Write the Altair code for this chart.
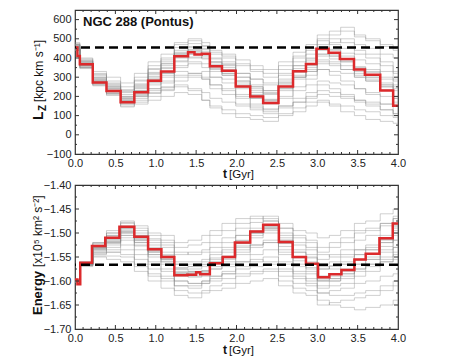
import altair as alt
import pandas as pd

# ---------------- data ----------------
step_t = [0, 0.06, 0.22, 0.39, 0.565, 0.735, 0.905, 1.065, 1.23, 1.40, 1.57, 1.67, 1.82,
          1.99, 2.17, 2.33, 2.52, 2.70, 2.86, 3.00, 3.15, 3.29, 3.46, 3.60, 3.78, 3.94, 4.0]

lz_gray = [
    [470, 380, 290, 245, 190, 240, 300, 345, 425, 445, 435, 375, 350, 270, 220, 185, 270, 345, 385, 460, 440, 410, 355, 330, 250, 170, 170],
    [480, 400, 320, 280, 250, 300, 360, 400, 470, 490, 460, 400, 380, 320, 290, 260, 320, 380, 420, 470, 500, 480, 440, 420, 380, 330, 330],
    [440, 350, 260, 210, 150, 190, 240, 280, 350, 370, 350, 300, 270, 200, 160, 130, 190, 250, 290, 340, 310, 280, 240, 210, 160, 110, 110],
    [450, 355, 270, 215, 160, 170, 200, 230, 260, 230, 180, 140, 110, 90, 80, 70, 100, 120, 150, 170, 150, 120, 100, 80, 70, 60, 60],
    [460, 375, 300, 260, 225, 280, 340, 380, 440, 460, 450, 420, 400, 360, 330, 300, 340, 400, 450, 520, 540, 560, 520, 500, 460, 440, 440],
    [455, 365, 280, 240, 200, 210, 230, 250, 280, 300, 290, 260, 240, 210, 190, 180, 200, 230, 260, 280, 270, 260, 240, 220, 200, 190, 190],
    [450, 370, 285, 230, 180, 230, 290, 320, 380, 400, 410, 350, 320, 250, 200, 170, 230, 300, 340, 390, 380, 360, 320, 300, 260, 230, 230],
    [445, 360, 265, 220, 175, 200, 260, 300, 330, 320, 300, 260, 230, 190, 150, 120, 140, 170, 200, 230, 220, 200, 170, 150, 130, 110, 110],
    [465, 385, 310, 265, 230, 260, 320, 370, 420, 440, 420, 380, 360, 300, 260, 230, 280, 330, 370, 420, 410, 390, 350, 340, 300, 280, 280],
    [470, 390, 330, 300, 270, 320, 380, 420, 480, 500, 480, 440, 420, 390, 360, 340, 380, 430, 470, 500, 520, 540, 510, 490, 470, 450, 450],
    [440, 345, 255, 205, 145, 160, 180, 200, 220, 210, 180, 150, 130, 110, 100, 90, 110, 140, 170, 180, 160, 150, 130, 120, 100, 90, 90],
    [455, 360, 275, 225, 165, 215, 275, 325, 400, 420, 415, 355, 330, 260, 205, 170, 250, 325, 365, 440, 420, 390, 340, 310, 235, 160, 160],
    [460, 370, 280, 235, 185, 230, 285, 330, 405, 420, 400, 340, 310, 240, 190, 160, 240, 310, 350, 420, 410, 380, 330, 300, 250, 200, 200],
    [450, 360, 280, 250, 220, 250, 290, 320, 360, 380, 370, 330, 310, 280, 250, 230, 260, 300, 330, 370, 360, 340, 310, 290, 260, 240, 240],
    [475, 395, 315, 270, 235, 285, 345, 390, 455, 475, 465, 430, 410, 370, 340, 320, 360, 410, 440, 490, 470, 450, 420, 400, 360, 320, 320],
    [445, 350, 260, 215, 160, 180, 215, 245, 300, 310, 290, 240, 210, 160, 130, 110, 150, 190, 220, 260, 240, 210, 180, 160, 130, 100, 100],
    [455, 365, 275, 230, 175, 220, 270, 310, 385, 405, 395, 345, 320, 255, 210, 180, 240, 300, 330, 380, 370, 340, 300, 280, 230, 190, 190],
    [460, 375, 290, 240, 195, 245, 305, 350, 410, 430, 420, 380, 365, 320, 290, 270, 310, 360, 400, 450, 480, 500, 470, 450, 420, 400, 400],
    [450, 360, 270, 225, 180, 205, 240, 270, 310, 320, 330, 300, 290, 250, 230, 220, 250, 290, 310, 340, 330, 320, 300, 280, 270, 260, 260],
    [465, 380, 295, 250, 200, 255, 315, 360, 420, 435, 425, 365, 340, 280, 240, 210, 270, 330, 360, 410, 395, 380, 345, 325, 290, 250, 250],
    [440, 350, 270, 230, 190, 200, 220, 235, 250, 240, 220, 190, 170, 150, 140, 135, 150, 170, 190, 210, 200, 190, 180, 170, 160, 150, 150],
    [470, 385, 300, 255, 210, 265, 325, 370, 430, 455, 445, 395, 370, 300, 250, 215, 290, 360, 395, 450, 445, 425, 390, 370, 330, 290, 290],
]

en_gray = [
    [-1.600, -1.565, -1.530, -1.515, -1.495, -1.515, -1.540, -1.555, -1.580, -1.580, -1.578, -1.560, -1.548, -1.522, -1.500, -1.488, -1.522, -1.552, -1.565, -1.590, -1.585, -1.575, -1.556, -1.545, -1.515, -1.487, -1.487],
    [-1.598, -1.560, -1.522, -1.500, -1.480, -1.490, -1.505, -1.515, -1.530, -1.525, -1.520, -1.505, -1.495, -1.480, -1.470, -1.465, -1.480, -1.495, -1.500, -1.510, -1.505, -1.495, -1.480, -1.475, -1.460, -1.450, -1.450],
    [-1.602, -1.568, -1.540, -1.530, -1.515, -1.535, -1.560, -1.575, -1.600, -1.605, -1.600, -1.590, -1.580, -1.560, -1.545, -1.535, -1.560, -1.585, -1.595, -1.615, -1.610, -1.605, -1.590, -1.580, -1.560, -1.540, -1.540],
    [-1.600, -1.570, -1.550, -1.555, -1.560, -1.580, -1.600, -1.615, -1.630, -1.635, -1.625, -1.620, -1.615, -1.605, -1.600, -1.595, -1.610, -1.625, -1.630, -1.650, -1.645, -1.640, -1.635, -1.630, -1.620, -1.610, -1.610],
    [-1.597, -1.563, -1.525, -1.505, -1.485, -1.500, -1.520, -1.530, -1.560, -1.560, -1.555, -1.540, -1.530, -1.505, -1.490, -1.475, -1.500, -1.525, -1.535, -1.555, -1.545, -1.535, -1.515, -1.505, -1.485, -1.470, -1.470],
    [-1.600, -1.566, -1.535, -1.525, -1.510, -1.520, -1.535, -1.545, -1.565, -1.570, -1.565, -1.555, -1.550, -1.535, -1.525, -1.520, -1.535, -1.550, -1.560, -1.575, -1.570, -1.565, -1.555, -1.550, -1.540, -1.530, -1.530],
    [-1.603, -1.562, -1.528, -1.512, -1.490, -1.510, -1.536, -1.552, -1.586, -1.584, -1.580, -1.562, -1.550, -1.522, -1.499, -1.485, -1.520, -1.550, -1.563, -1.590, -1.585, -1.577, -1.556, -1.543, -1.512, -1.482, -1.482],
    [-1.599, -1.567, -1.545, -1.540, -1.535, -1.555, -1.575, -1.590, -1.610, -1.615, -1.605, -1.595, -1.585, -1.570, -1.560, -1.550, -1.565, -1.580, -1.585, -1.600, -1.595, -1.585, -1.575, -1.565, -1.555, -1.545, -1.545],
    [-1.601, -1.563, -1.520, -1.495, -1.475, -1.485, -1.500, -1.505, -1.520, -1.515, -1.505, -1.495, -1.480, -1.470, -1.465, -1.475, -1.490, -1.505, -1.515, -1.530, -1.520, -1.510, -1.495, -1.490, -1.480, -1.470, -1.470],
    [-1.600, -1.565, -1.540, -1.540, -1.545, -1.570, -1.590, -1.600, -1.620, -1.625, -1.620, -1.610, -1.605, -1.590, -1.585, -1.580, -1.600, -1.615, -1.620, -1.640, -1.650, -1.655, -1.660, -1.655, -1.650, -1.640, -1.640],
    [-1.598, -1.564, -1.532, -1.520, -1.500, -1.525, -1.550, -1.565, -1.590, -1.592, -1.590, -1.575, -1.565, -1.545, -1.530, -1.520, -1.545, -1.570, -1.580, -1.600, -1.600, -1.595, -1.580, -1.570, -1.550, -1.530, -1.530],
    [-1.602, -1.566, -1.530, -1.510, -1.500, -1.505, -1.515, -1.520, -1.540, -1.545, -1.540, -1.530, -1.520, -1.505, -1.495, -1.490, -1.505, -1.520, -1.530, -1.545, -1.550, -1.545, -1.535, -1.530, -1.520, -1.515, -1.515],
    [-1.600, -1.567, -1.537, -1.522, -1.505, -1.527, -1.545, -1.560, -1.575, -1.575, -1.570, -1.575, -1.570, -1.560, -1.555, -1.560, -1.575, -1.590, -1.600, -1.610, -1.600, -1.590, -1.575, -1.565, -1.560, -1.555, -1.555],
    [-1.599, -1.561, -1.526, -1.508, -1.488, -1.506, -1.530, -1.548, -1.575, -1.580, -1.582, -1.565, -1.555, -1.530, -1.510, -1.500, -1.515, -1.540, -1.550, -1.570, -1.575, -1.565, -1.545, -1.535, -1.520, -1.500, -1.500],
    [-1.600, -1.564, -1.529, -1.513, -1.492, -1.512, -1.538, -1.554, -1.583, -1.582, -1.579, -1.561, -1.549, -1.521, -1.498, -1.486, -1.521, -1.551, -1.564, -1.591, -1.586, -1.576, -1.555, -1.544, -1.513, -1.484, -1.484],
    [-1.601, -1.566, -1.534, -1.520, -1.505, -1.520, -1.545, -1.560, -1.585, -1.590, -1.585, -1.570, -1.560, -1.540, -1.525, -1.515, -1.540, -1.565, -1.575, -1.595, -1.590, -1.580, -1.565, -1.555, -1.535, -1.515, -1.515],
    [-1.599, -1.563, -1.527, -1.505, -1.490, -1.505, -1.525, -1.540, -1.565, -1.565, -1.560, -1.545, -1.535, -1.515, -1.500, -1.490, -1.510, -1.535, -1.545, -1.565, -1.560, -1.550, -1.535, -1.525, -1.505, -1.490, -1.490],
    [-1.600, -1.567, -1.543, -1.535, -1.525, -1.545, -1.565, -1.580, -1.600, -1.605, -1.600, -1.590, -1.585, -1.575, -1.570, -1.565, -1.580, -1.595, -1.605, -1.625, -1.620, -1.615, -1.605, -1.600, -1.590, -1.585, -1.585],
    [-1.602, -1.565, -1.531, -1.518, -1.498, -1.516, -1.540, -1.556, -1.583, -1.585, -1.585, -1.565, -1.552, -1.527, -1.505, -1.495, -1.528, -1.558, -1.572, -1.598, -1.595, -1.585, -1.565, -1.555, -1.528, -1.505, -1.505],
    [-1.598, -1.562, -1.520, -1.500, -1.478, -1.495, -1.512, -1.525, -1.545, -1.540, -1.535, -1.520, -1.510, -1.490, -1.478, -1.470, -1.490, -1.510, -1.520, -1.540, -1.530, -1.520, -1.500, -1.495, -1.480, -1.465, -1.465],
    [-1.600, -1.568, -1.548, -1.548, -1.550, -1.565, -1.585, -1.595, -1.610, -1.610, -1.605, -1.600, -1.595, -1.585, -1.580, -1.575, -1.590, -1.605, -1.610, -1.625, -1.630, -1.630, -1.625, -1.620, -1.610, -1.600, -1.600],
    [-1.601, -1.564, -1.533, -1.517, -1.497, -1.513, -1.535, -1.548, -1.572, -1.570, -1.566, -1.552, -1.540, -1.516, -1.500, -1.492, -1.515, -1.540, -1.552, -1.575, -1.568, -1.560, -1.545, -1.535, -1.512, -1.495, -1.495],
]

red_t_lz = [0, 0.03, 0.06, 0.22, 0.39, 0.565, 0.735, 0.905, 1.065, 1.23, 1.40, 1.48, 1.57, 1.67, 1.82,
            1.99, 2.17, 2.33, 2.52, 2.70, 2.86, 2.99, 3.14, 3.28, 3.455, 3.59, 3.78, 3.94, 4.0]
red_v_lz = [455, 410, 367, 273, 228, 170, 222, 282, 330, 409, 430, 418, 422, 357, 334,
            252, 200, 166, 252, 331, 369, 448, 427, 395, 340, 313, 231, 151, 151]

red_t_en = [0, 0.03, 0.065, 0.21, 0.375, 0.55, 0.735, 0.905, 1.07, 1.23, 1.39, 1.50, 1.55, 1.67, 1.83,
            1.98, 2.17, 2.33, 2.525, 2.695, 2.86, 3.01, 3.15, 3.30, 3.46, 3.60, 3.77, 3.935, 4.0]
red_v_en = [-1.597, -1.607, -1.562, -1.527, -1.510, -1.487, -1.508, -1.534, -1.550, -1.588, -1.587, -1.582, -1.586, -1.563, -1.550,
            -1.520, -1.497, -1.483, -1.519, -1.550, -1.564, -1.592, -1.586, -1.577, -1.555, -1.543, -1.511, -1.480, -1.480]

lz_present = [455]
en_present = [-1.566]

x_major = [0.5, 1.0, 1.5, 2.0, 2.5, 3.0, 3.5]
x_minor = [0.1, 0.2, 0.3, 0.4, 0.6, 0.7, 0.8, 0.9, 1.1, 1.2, 1.3, 1.4, 1.6, 1.7, 1.8, 1.9,
           2.1, 2.2, 2.3, 2.4, 2.6, 2.7, 2.8, 2.9, 3.1, 3.2, 3.3, 3.4, 3.6, 3.7, 3.8, 3.9]
lz_major = [0, 100, 200, 300, 400, 500, 600]
lz_minor = [-50, 50, 150, 250, 350, 450, 550]
en_major = [-1.65, -1.60, -1.55, -1.50, -1.45]
en_minor = [-1.675, -1.625, -1.575, -1.525, -1.475, -1.425]

x_labels = [0.0, 0.5, 1.0, 1.5, 2.0, 2.5, 3.0, 3.5, 4.0]
lz_labels = [-100, 0, 100, 200, 300, 400, 500, 600]
en_labels = [-1.70, -1.65, -1.60, -1.55, -1.50, -1.45, -1.40]

panel_title = "NGC 288 (Pontus)"

W, H = 323, 144
FONT = "Liberation Sans"
RED = "#dc2a2c"


def gray_frame(series):
    rows = []
    for k, vals in enumerate(series):
        for t, v in zip(step_t, vals):
            rows.append({"t": t, "v": v, "s": k})
    return pd.DataFrame(rows)


def panel(series, red_t, red_v, present, y_dom, y_labels, y_fmt, y_major, y_minor, ytexts):
    xs = alt.Scale(domain=[0, 4], nice=False, zero=False)
    ys = alt.Scale(domain=y_dom, nice=False, zero=False)
    xax = alt.Axis(values=x_labels, format=".1f", ticks=False, domain=False, grid=False,
                   labelPadding=3, labelFontSize=11, labelFont=FONT, labelColor="#222",
                   labelFlush=False)
    yax = alt.Axis(values=y_labels, format=y_fmt, ticks=False, domain=False, grid=False,
                   labelPadding=4, labelFontSize=11, labelFont=FONT, labelColor="#222",
                   labelFlush=False)
    X = alt.X("t:Q", scale=xs, axis=xax, title=None)
    Y = alt.Y("v:Q", scale=ys, axis=yax, title=None)

    gray = alt.Chart(gray_frame(series)).mark_line(
        interpolate="step-after", color="#8a8a8a", strokeWidth=1, opacity=0.4
    ).encode(x=X, y=Y, detail="s:N")

    red = alt.Chart(pd.DataFrame({"t": red_t, "v": red_v})).mark_line(
        interpolate="step-after", color=RED, strokeWidth=2.5
    ).encode(x=X, y=Y)

    dash = alt.Chart(pd.DataFrame({"v": present})).mark_rule(
        color="black", strokeWidth=2.4, strokeDash=[9, 5]
    ).encode(y=Y)

    layers = [gray, red, dash]
    # inward ticks
    for vals, ln in ((x_major, 4), (x_minor, 2)):
        d = pd.DataFrame({"t": vals})
        layers.append(alt.Chart(d).mark_rule(color="#333", strokeWidth=1).encode(
            x=X, y=alt.value(H), y2=alt.value(H - ln)))
        layers.append(alt.Chart(d).mark_rule(color="#333", strokeWidth=1).encode(
            x=X, y=alt.value(0), y2=alt.value(ln)))
    for vals, ln in ((y_major, 4), (y_minor, 2)):
        d = pd.DataFrame({"v": vals})
        layers.append(alt.Chart(d).mark_rule(color="#333", strokeWidth=1).encode(
            y=Y, x=alt.value(0), x2=alt.value(ln)))
        layers.append(alt.Chart(d).mark_rule(color="#333", strokeWidth=1).encode(
            y=Y, x=alt.value(W), x2=alt.value(W - ln)))

    # texts
    for txt, x, y, size, weight, angle in ytexts:
        layers.append(alt.Chart(pd.DataFrame({"txt": [txt]})).mark_text(
            font=FONT, fontSize=size, fontWeight=weight, angle=angle, align="left",
            baseline="alphabetic", color="#111"
        ).encode(text="txt:N", x=alt.value(x), y=alt.value(y)))

    return alt.layer(*layers).properties(width=W, height=H)


top_texts = [
    (panel_title, 8, 16, 13, "bold", 0),
    ("t", 148, 168, 12, "bold", 0),
    ("[Gyr]", 154, 168, 11.5, "normal", 0),
    ("L", -32, 110, 14, "bold", 270),
    ("Z", -29, 101, 10, "bold", 270),
    ("[kpc km s⁻¹]", -32, 92, 12, "normal", 270),
]
bot_texts = [
    ("t", 148, 169, 12, "bold", 0),
    ("[Gyr]", 154, 169, 11.5, "normal", 0),
    ("Energy", -33, 130, 13, "bold", 270),
    ("[x10⁵ km² s⁻²]", -33, 82, 12, "normal", 270),
]

top = panel(lz_gray, red_t_lz, red_v_lz, lz_present, [-100, 650], lz_labels, "d",
            lz_major, lz_minor, top_texts)
bot = panel(en_gray, red_t_en, red_v_en, en_present, [-1.70, -1.40], en_labels, ".2f",
            en_major, en_minor, bot_texts)

chart = alt.vconcat(top, bot, spacing=31, bounds="flush").properties(
    padding={"left": 23, "top": 0, "right": 5, "bottom": 5}
).configure_view(stroke="#333", strokeWidth=1.2)

chart.save("out.html", embed_options={"renderer": "svg", "actions": False})
